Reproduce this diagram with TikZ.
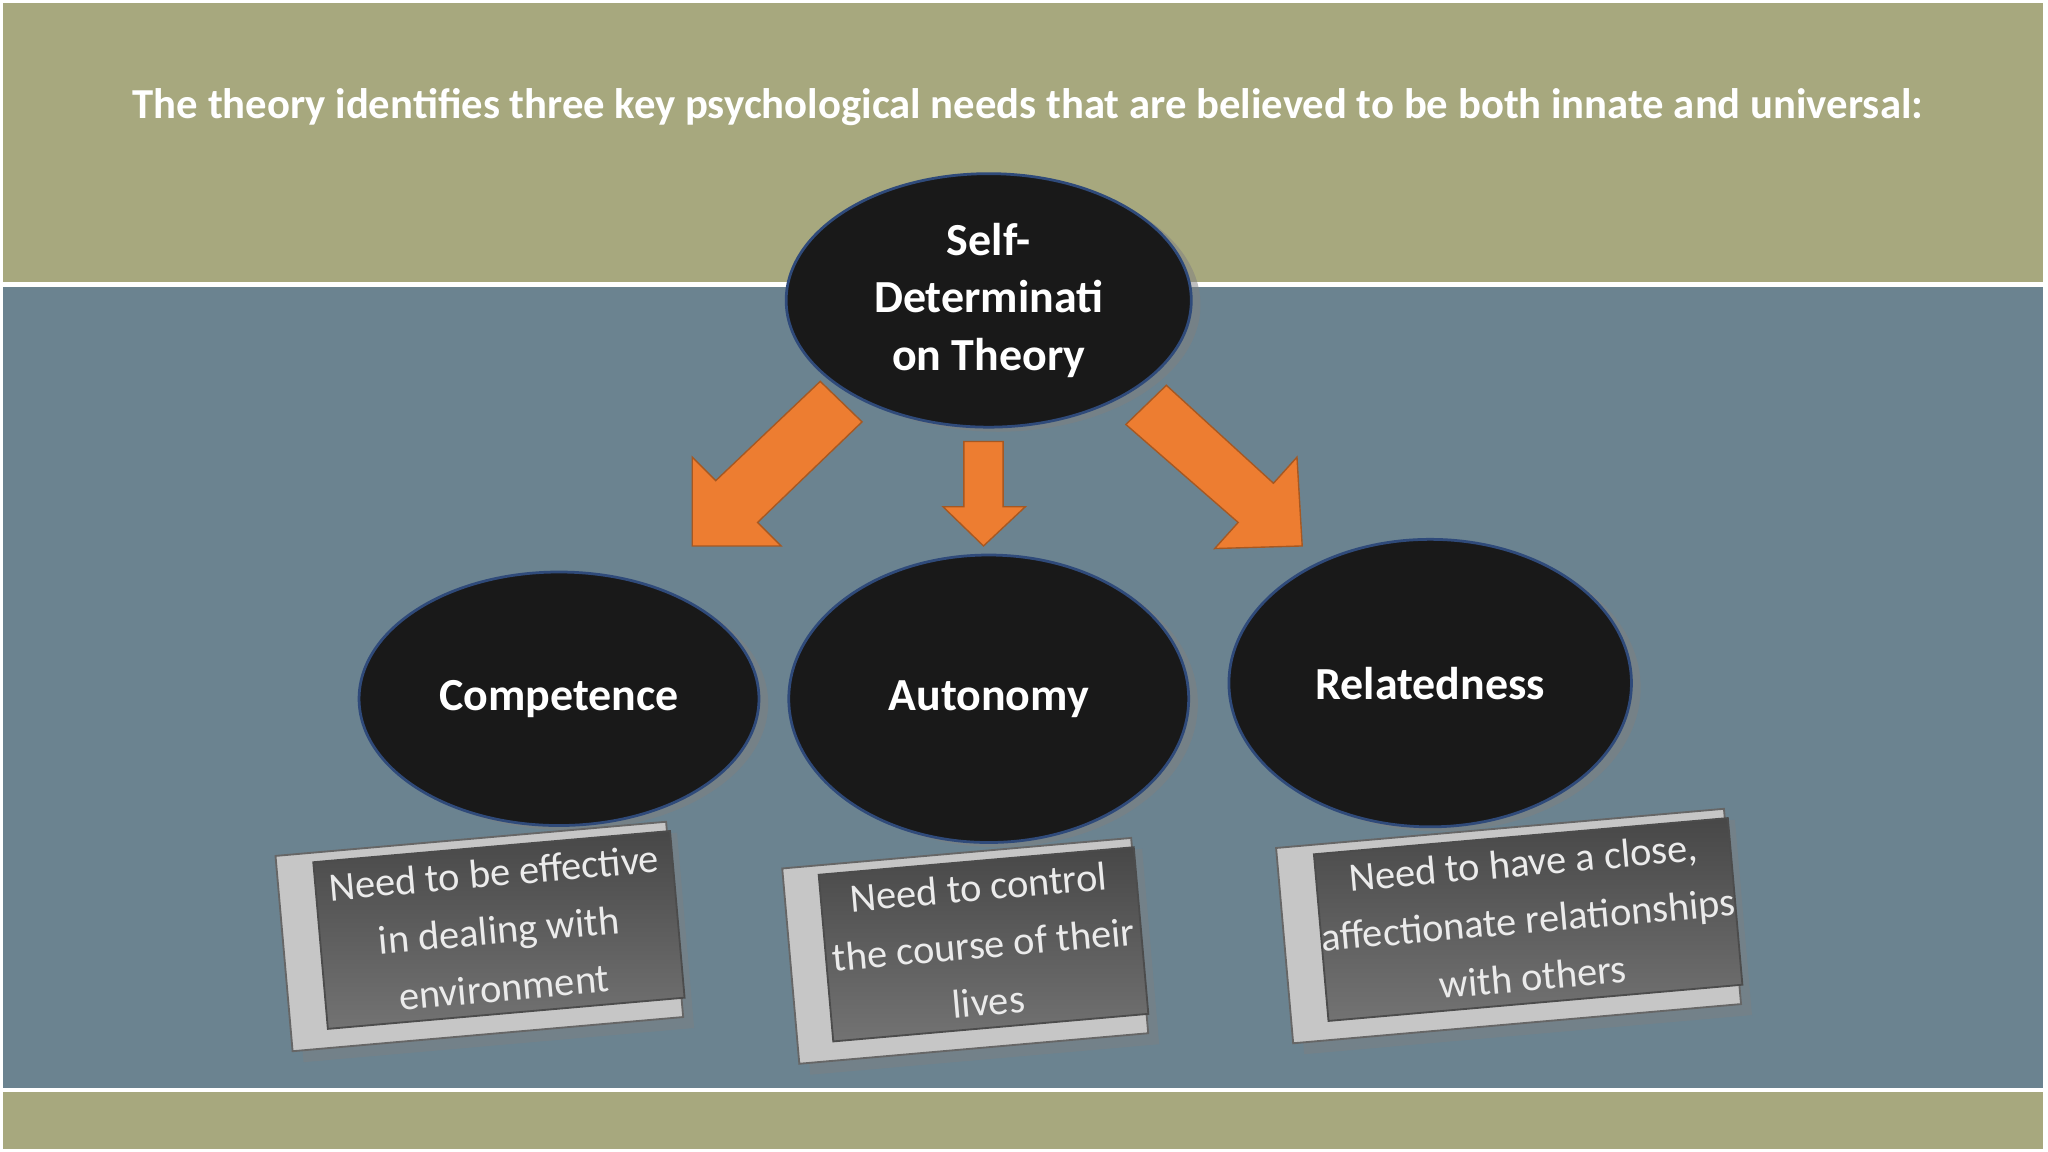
\documentclass[tikz,border=0pt]{standalone}
\usepackage{fontspec}
\setmainfont{Carlito}
\usetikzlibrary{shapes.geometric,shadows}
\definecolor{olive}{HTML}{A7A87E}
\definecolor{slate}{HTML}{6B8390}
\definecolor{orng}{HTML}{ED7D31}
\definecolor{edge}{HTML}{2F4A7A}
\tikzset{
 oval/.style={ellipse,inner sep=0pt,fill=black!90,draw=edge,line width=0.6pt,text=white,font=\bfseries\fontsize{10}{12.5}\selectfont,align=center,
   drop shadow={shadow xshift=2pt,shadow yshift=-1pt,opacity=0.5}},
 arr/.style={fill=orng,draw=orng!70!black,line width=0.3pt},
 plate/.style={rectangle,rotate=5,fill=gray!45,draw=black!60,line width=0.4pt,drop shadow={opacity=0.4}},
 face/.style={rectangle,rotate=5,top color=black!72,bottom color=black!55,draw=black!70,line width=0.4pt,text=black!8,align=center,font=\fontsize{8.8}{12.5}\selectfont,inner sep=0pt}
}
\begin{document}
\begin{tikzpicture}[x=0.01cm,y=-0.01cm]
\useasboundingbox (0,0) rectangle (1568,882);
\fill[white] (0,0) rectangle (1568,882);
\fill[olive] (2,2) rectangle (1564,216);
\fill[slate] (2,220) rectangle (1564,833);
\fill[olive] (2,836) rectangle (1564,880);
\node (title) at (787,82) {\color{white}\bfseries\fontsize{9.3}{11}\selectfont The theory identifies three key psychological needs that are believed to be both innate and universal:};
\node[oval,minimum width=3.1cm,minimum height=1.94cm] (sdt) at (757,230) {Self-\\Determinati\\on Theory};
\node[oval,minimum width=3.06cm,minimum height=1.94cm] (comp) at (428,535) {Competence};
\node[oval,minimum width=3.06cm,minimum height=2.2cm] (auto) at (757,535) {Autonomy};
\node[oval,minimum width=3.08cm,minimum height=2.2cm] (rel) at (1095,523) {Relatedness};
\fill[arr] (628,292) -- (548,368) -- (530,350) -- (530,418) -- (598,418) -- (580,400) -- (660,323) -- cycle;
\fill[arr] (738,338) -- (738,388) -- (722,388) -- (753,418) -- (785,388) -- (768,388) -- (768,338) -- cycle;
\fill[arr] (893,295) -- (975,370) -- (993,350) -- (997,418) -- (930,420) -- (948,400) -- (862,325) -- cycle;
% plates
\node[plate,minimum width=3.0cm,minimum height=1.5cm] (p1) at (367,717) {};
\node[face,minimum width=2.74cm,minimum height=1.28cm] (f1) at (382,712) {Need to be effective\\in dealing with\\environment};
\node[plate,minimum width=2.68cm,minimum height=1.5cm] (p2) at (739,728) {};
\node[face,minimum width=2.42cm,minimum height=1.28cm] (f2) at (753,723) {Need to control\\the course of their\\lives};
\node[plate,minimum width=3.44cm,minimum height=1.5cm] (p3) at (1155,709) {};
\node[face,minimum width=3.16cm,minimum height=1.28cm] (f3) at (1170,704) {Need to have a close,\\affectionate relationships\\with others};
\end{tikzpicture}
\end{document}
